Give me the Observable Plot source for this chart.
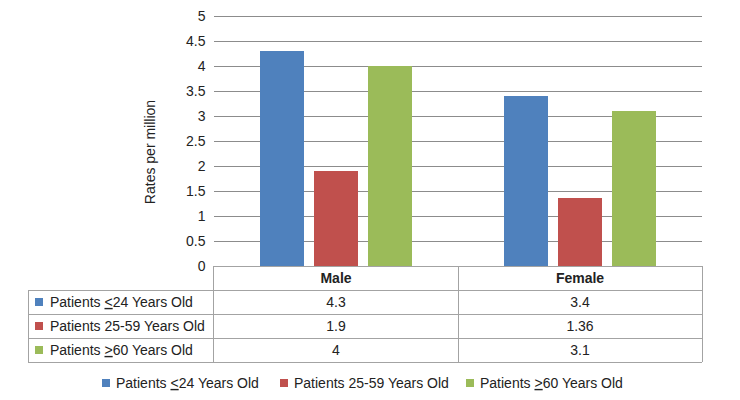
<!DOCTYPE html>
<html><head><meta charset="utf-8">
<script src="https://cdn.jsdelivr.net/npm/d3@7"></script>
<script src="https://cdn.jsdelivr.net/npm/@observablehq/plot@0.6"></script>
<style>body{margin:0;background:#fff;font-family:"Liberation Sans",Arial,sans-serif}</style>
</head><body><div id="chart"></div>
<script>
const genders = ["Male", "Female"];
const series = ["Patients ≤24 Years Old", "Patients 25-59 Years Old", "Patients ≥60 Years Old"];
const maleValues = [4.3, 1.9, 4];
const femaleValues = [3.4, 1.36, 3.1];
const colors = ["#4F81BD", "#C0504D", "#9BBB59"];
const yTicks = [0, 0.5, 1, 1.5, 2, 2.5, 3, 3.5, 4, 4.5, 5];
const yLabel = "Rates per million";

const valuesBy = {Male: maleValues, Female: femaleValues};
const data = genders.flatMap(g => series.map((s, i) => ({gender: g, series: s, value: valuesBy[g][i]})));

const FONT = "Liberation Sans, Arial, sans-serif";
const plot = Plot.plot({
  width: 740, height: 400,
  marginLeft: 213, marginRight: 38, marginTop: 16, marginBottom: 134,
  style: {fontFamily: FONT, fontSize: "14px", color: "#222", background: "#fff"},
  fx: {domain: genders, padding: 0, axis: null},
  x: {domain: series, paddingInner: 0.1835, paddingOuter: 0.826, axis: null},
  y: {domain: [0, 5], axis: null},
  color: {domain: series, range: colors},
  marks: [
    Plot.gridY(yTicks, {stroke: "#8c8c8c", strokeOpacity: 1}),
    Plot.barY(data, {fx: "gender", x: "series", y: "value", fill: "series"}),
    Plot.axisY(yTicks, {tickSize: 0, tickPadding: 9, tickFormat: d => String(d), label: null, fontSize: 14, fill: "#222"})
  ]
});
document.getElementById("chart").appendChild(plot);

const svg = d3.select(plot);
const fx = plot.scale("fx");
const y = plot.scale("y");
const left = 28, colLeft = fx.range[0], right = fx.range[1];
const top0 = Math.round(y.apply(0));
const rowH = 24;
const lineColor = "#a3a3a3";
const g = svg.append("g").attr("font-family", FONT).attr("font-size", 14).attr("fill", "#222").attr("text-anchor", "start");

function addLabel(sel, label) {
  const m = label.match(/^(.*?)([≤≥])(.*)$/);
  if (!m) { sel.text(label); return; }
  sel.append("tspan").text(m[1]);
  sel.append("tspan").attr("text-decoration", "underline").text(m[2] === "≤" ? "<" : ">");
  sel.append("tspan").text(m[3]);
}

// table lines
const hl = (x1, x2, yy) => g.append("line").attr("x1", x1).attr("x2", x2).attr("y1", yy + 0.5).attr("y2", yy + 0.5).attr("stroke", lineColor);
const vl = (xx, y1, y2) => g.append("line").attr("x1", xx + 0.5).attr("x2", xx + 0.5).attr("y1", y1).attr("y2", y2).attr("stroke", lineColor);
hl(colLeft, right, top0);
for (let r = 1; r <= series.length + 1; r++) hl(left, right, top0 + r * rowH);
vl(left, top0 + rowH, top0 + rowH * (series.length + 1));
vl(colLeft, top0, top0 + rowH * (series.length + 1));
genders.slice(1).forEach(gd => vl(Math.round(fx.apply(gd)), top0, top0 + rowH * (series.length + 1)));
vl(right, top0, top0 + rowH * (series.length + 1));

// header
genders.forEach(gd => {
  g.append("text").attr("x", fx.apply(gd) + fx.bandwidth / 2).attr("y", top0 + rowH / 2)
    .attr("text-anchor", "middle").attr("dy", "0.35em").attr("font-weight", "bold").text(gd);
});
// rows
series.forEach((s, i) => {
  const cy = top0 + rowH * (i + 1) + rowH / 2;
  g.append("rect").attr("x", 35).attr("y", cy - 4).attr("width", 8).attr("height", 8).attr("fill", colors[i]);
  addLabel(g.append("text").attr("x", 50).attr("y", cy).attr("dy", "0.35em").attr("text-anchor", "start"), s);
  genders.forEach(gd => {
    g.append("text").attr("x", fx.apply(gd) + fx.bandwidth / 2).attr("y", cy).attr("dy", "0.35em")
      .attr("text-anchor", "middle").text(String(valuesBy[gd][i]));
  });
});

// y label
g.append("text").attr("transform", "translate(150,152) rotate(-90)").attr("text-anchor", "middle")
  .attr("dy", "0.35em").text(yLabel);

// legend
const legendX = [102, 280, 466];
series.forEach((s, i) => {
  const cy = 383;
  g.append("rect").attr("x", legendX[i]).attr("y", cy - 4).attr("width", 8).attr("height", 8).attr("fill", colors[i]);
  addLabel(g.append("text").attr("x", legendX[i] + 14).attr("y", cy).attr("dy", "0.35em").attr("text-anchor", "start"), s);
});
</script></body></html>
